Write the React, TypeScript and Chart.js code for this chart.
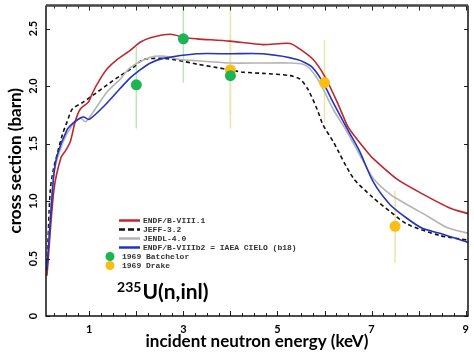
import React, { useEffect, useRef } from 'react';
import { Chart, registerables } from 'chart.js';

Chart.register(...registerables);

// ENDF/B-VIII.1 (red)
const endf81X = [0.1, 0.25, 0.4, 0.5, 0.6, 0.7, 0.81, 0.98, 1.08, 1.23, 1.38, 1.59, 1.87, 2.08, 2.3, 2.72, 3.04, 3.29, 3.99, 4.69, 5.27, 5.48, 5.76, 6.01, 6.27, 6.48, 6.61, 6.9, 7.03, 7.54, 8.09, 8.66, 9.05];
const endf81Y = [0.35, 1.1, 1.38, 1.44, 1.52, 1.69, 1.8, 1.86, 1.95, 2.06, 2.15, 2.23, 2.31, 2.38, 2.42, 2.45, 2.42, 2.41, 2.39, 2.36, 2.37, 2.32, 2.23, 2.08, 1.86, 1.66, 1.58, 1.43, 1.37, 1.19, 1.06, 0.94, 0.89];

// JEFF-3.2 (black dashed)
const jeffX = [0.1, 0.17, 0.24, 0.32, 0.43, 0.53, 0.64, 0.87, 1.08, 1.38, 1.66, 1.93, 2.15, 2.57, 2.93, 3.29, 3.72, 3.99, 4.27, 4.69, 5.27, 5.48, 5.65, 5.84, 5.97, 6.18, 6.61, 7.03, 7.39, 7.75, 8.45, 9.05];
const jeffY = [0.4, 1.09, 1.28, 1.41, 1.58, 1.69, 1.8, 1.86, 1.92, 2.01, 2.09, 2.16, 2.23, 2.24, 2.22, 2.19, 2.16, 2.14, 2.12, 2.11, 2.09, 2.06, 1.97, 1.8, 1.66, 1.52, 1.2, 1.03, 0.91, 0.8, 0.7, 0.66];

// JENDL-4.0 (gray)
const jendlX = [0.1, 0.24, 0.43, 0.64, 0.81, 0.92, 1.06, 1.38, 1.66, 1.87, 2.3, 2.57, 2.93, 3.29, 3.99, 4.69, 5.27, 5.54, 5.69, 5.9, 6.18, 6.48, 6.75, 7.03, 7.39, 7.75, 8.18, 8.6, 9.05];
const jendlY = [0.38, 1.22, 1.5, 1.66, 1.72, 1.69, 1.76, 1.95, 2.06, 2.16, 2.25, 2.26, 2.23, 2.22, 2.2, 2.2, 2.2, 2.19, 2.15, 2.03, 1.8, 1.6, 1.4, 1.2, 1.06, 0.97, 0.87, 0.77, 0.72];

// ENDF/B-VIIIb2 = IAEA CIELO (blue)
const cieloX = [0.1, 0.24, 0.32, 0.53, 0.66, 0.8, 0.88, 1.0, 1.3, 1.66, 1.87, 2.08, 2.3, 2.57, 3.29, 3.99, 4.69, 5.42, 5.72, 5.97, 6.18, 6.48, 6.75, 7.03, 7.39, 7.75, 8.09, 8.45, 9.05];
const cieloY = [0.4, 1.2, 1.4, 1.62, 1.68, 1.72, 1.73, 1.71, 1.82, 1.98, 2.07, 2.14, 2.2, 2.24, 2.28, 2.28, 2.28, 2.23, 2.17, 2.03, 1.86, 1.63, 1.43, 1.17, 0.97, 0.85, 0.76, 0.72, 0.64];

// 1969 Batchelor (green)
const batchelorX = [2, 3, 4];
const batchelorY = [2.01, 2.41, 2.09];
const batchelorLow = [1.63, 2.03, 1.75];
const batchelorHigh = [2.34, 2.75, 2.45];

// 1969 Drake (orange)
const drakeX = [4, 6, 7.5];
const drakeY = [2.14, 2.03, 0.78];
const drakeLow = [1.63, 1.69, 0.46];
const drakeHigh = [2.75, 2.4, 1.09];

const xTickLabels = [1, 3, 5, 7, 9];
const yTickLabels = [0, 0.5, 1, 1.5, 2, 2.5];

const seriesLabels = [
  'ENDF/B-VIII.1',
  'JEFF-3.2',
  'JENDL-4.0',
  'ENDF/B-VIIIb2 = IAEA CIELO (b18)',
  '1969 Batchelor',
  '1969 Drake',
];

const toPts = (xs: number[], ys: number[]) => xs.map((x, i) => ({ x, y: ys[i] }));

const FONT = 'Lato, "Open Sans", sans-serif';

const errorBarPlugin = {
  id: 'errorBars',
  beforeDatasetsDraw(chart: any) {
    const { ctx, chartArea } = chart;
    const xs = chart.scales.x;
    const ys = chart.scales.y;
    ctx.save();
    ctx.beginPath();
    ctx.rect(chartArea.left, chartArea.top, chartArea.right - chartArea.left, chartArea.bottom - chartArea.top);
    ctx.clip();
    chart.data.datasets.forEach((ds: any) => {
      if (!ds.errLow) return;
      ctx.strokeStyle = ds.errColor;
      ctx.lineWidth = 1.5;
      ds.data.forEach((p: any, i: number) => {
        const px = xs.getPixelForValue(p.x);
        ctx.beginPath();
        ctx.moveTo(px, ys.getPixelForValue(ds.errLow[i]));
        ctx.lineTo(px, ys.getPixelForValue(ds.errHigh[i]));
        ctx.stroke();
      });
    });
    ctx.restore();
  },
};

const framePlugin = {
  id: 'frame',
  afterDraw(chart: any) {
    const { ctx, chartArea } = chart;
    const { left, right, top, bottom } = chartArea;
    const xs = chart.scales.x;
    const ys = chart.scales.y;
    ctx.save();
    ctx.strokeStyle = '#222';
    ctx.lineWidth = 1;
    xs.ticks.forEach((t: any) => {
      const px = Math.round(xs.getPixelForValue(t.value)) + 0.5;
      const major = Number.isInteger(t.value);
      const len = major ? 5 : 3;
      ctx.beginPath();
      ctx.moveTo(px, bottom);
      ctx.lineTo(px, bottom - len);
      ctx.moveTo(px, top);
      ctx.lineTo(px, top + len);
      ctx.stroke();
    });
    ys.ticks.forEach((t: any) => {
      const py = Math.round(ys.getPixelForValue(t.value)) + 0.5;
      ctx.beginPath();
      ctx.moveTo(left, py);
      ctx.lineTo(left + 4, py);
      ctx.moveTo(right, py);
      ctx.lineTo(right - 4, py);
      ctx.stroke();
    });
    ctx.strokeStyle = '#111';
    ctx.lineWidth = 1.5;
    ctx.beginPath();
    ctx.moveTo(left, top);
    ctx.lineTo(left, bottom);
    ctx.lineTo(right, bottom);
    ctx.lineTo(right, top);
    ctx.stroke();
    ctx.strokeStyle = '#444';
    ctx.lineWidth = 2.5;
    ctx.beginPath();
    ctx.moveTo(left, top);
    ctx.lineTo(right, top);
    ctx.stroke();
    ctx.restore();
  },
};

const legendPlugin = {
  id: 'innerLegend',
  afterDatasetsDraw(chart: any) {
    const { ctx, chartArea } = chart;
    const x0 = chartArea.left + 73;
    const y0 = chartArea.top + 215;
    const rowH = 9;
    ctx.save();
    ctx.font = 'bold 8px "Liberation Mono", monospace';
    ctx.textBaseline = 'middle';
    ctx.textAlign = 'left';
    chart.data.datasets.forEach((ds: any, i: number) => {
      const y = y0 + i * rowH;
      if (ds.showLine) {
        ctx.strokeStyle = ds.borderColor;
        ctx.lineWidth = 2.5;
        ctx.setLineDash(ds.borderDash && ds.borderDash.length ? [6, 3] : []);
        ctx.beginPath();
        ctx.moveTo(x0, y);
        ctx.lineTo(x0 + 21, y);
        ctx.stroke();
        ctx.setLineDash([]);
        ctx.fillStyle = '#333';
        ctx.fillText(ds.label, x0 + 24, y);
      } else {
        ctx.fillStyle = ds.backgroundColor;
        ctx.beginPath();
        ctx.arc(x0 - 9, y, 4.5, 0, Math.PI * 2);
        ctx.fill();
        ctx.fillStyle = '#333';
        ctx.fillText(ds.label, x0 + 3, y);
      }
    });
    ctx.restore();
  },
};

const annotationPlugin = {
  id: 'reaction',
  afterDraw(chart: any) {
    const { ctx } = chart;
    const px = chart.scales.x.getPixelForValue(1.59);
    const py = chart.scales.y.getPixelForValue(0.147);
    ctx.save();
    ctx.fillStyle = '#000';
    ctx.textBaseline = 'alphabetic';
    ctx.textAlign = 'left';
    ctx.font = `bold 14px ${FONT}`;
    ctx.fillText('235', px, py - 7);
    const w = ctx.measureText('235').width;
    ctx.font = `bold 21px ${FONT}`;
    ctx.fillText('U(n,inl)', px + w + 1, py);
    ctx.restore();
  },
};

export default function App() {
  const ref = useRef<HTMLCanvasElement | null>(null);

  useEffect(() => {
    if (!ref.current) return;
    const lineBase = {
      showLine: true,
      pointRadius: 0,
      pointHoverRadius: 0,
      borderWidth: 1.6,
      tension: 0.25,
      fill: false,
    };
    const chart = new Chart(ref.current, {
      type: 'scatter',
      data: {
        datasets: [
          { ...lineBase, label: seriesLabels[0], data: toPts(endf81X, endf81Y), borderColor: '#c0272d', backgroundColor: '#c0272d', order: 2 },
          { ...lineBase, label: seriesLabels[1], data: toPts(jeffX, jeffY), borderColor: '#111111', backgroundColor: '#111111', borderDash: [4, 3], order: 4 },
          { ...lineBase, label: seriesLabels[2], data: toPts(jendlX, jendlY), borderColor: '#b4b4b4', backgroundColor: '#b4b4b4', order: 3 },
          { ...lineBase, label: seriesLabels[3], data: toPts(cieloX, cieloY), borderColor: '#2433c0', backgroundColor: '#2433c0', order: 1 },
          {
            label: seriesLabels[4], data: toPts(batchelorX, batchelorY), showLine: false,
            pointRadius: 5.5, pointBorderWidth: 0, backgroundColor: '#1db453', borderColor: '#1db453', order: 0,
            errLow: batchelorLow, errHigh: batchelorHigh, errColor: '#bfe3b8',
          } as any,
          {
            label: seriesLabels[5], data: toPts(drakeX, drakeY), showLine: false,
            pointRadius: 5.5, pointBorderWidth: 0, backgroundColor: '#fbbd14', borderColor: '#fbbd14', order: 0,
            errLow: drakeLow, errHigh: drakeHigh, errColor: '#ece5ad',
          } as any,
        ],
      },
      options: {
        responsive: false,
        animation: false,
        layout: { padding: { top: 2, right: 6, left: 0, bottom: 0 } },
        plugins: {
          legend: { display: false },
          tooltip: { enabled: false },
        },
        scales: {
          x: {
            type: 'linear',
            min: 0.08,
            max: 9.05,
            grid: { display: false, drawTicks: false, tickLength: 0 },
            border: { display: false },
            ticks: {
              stepSize: 0.25,
              autoSkip: false,
              includeBounds: false,
              maxRotation: 0,
              minRotation: 0,
              padding: 7,
              color: '#000',
              font: { family: FONT, size: 11, weight: 'bold' },
              callback: (v: any) => (xTickLabels.includes(Number(v)) ? String(v) : ''),
            },
            title: {
              display: true,
              text: 'incident neutron energy (keV)',
              color: '#000',
              font: { family: FONT, size: 17, weight: 'bold' },
              padding: { top: 0, bottom: 10 },
            },
            afterFit: (s: any) => { s.height = 46; s.paddingLeft = 0; s.paddingRight = 0; },
          },
          y: {
            type: 'linear',
            min: 0,
            max: 2.7,
            grid: { display: false, drawTicks: false, tickLength: 0 },
            border: { display: false },
            ticks: {
              stepSize: 0.5,
              includeBounds: false,
              autoSkip: false,
              minRotation: 90,
              maxRotation: 90,
              crossAlign: 'center',
              padding: 5,
              color: '#000',
              font: { family: FONT, size: 11, weight: 'bold' },
              callback: (v: any) => {
                const n = Number(v);
                if (!yTickLabels.includes(n)) return '';
                return n === 0 ? '0' : n.toFixed(1);
              },
            },
            title: {
              display: true,
              text: 'cross section (barn)',
              color: '#000',
              font: { family: FONT, size: 17, weight: 'bold' },
              padding: { top: 5, bottom: 0 },
            },
            afterFit: (s: any) => { s.width = 46; s.paddingTop = 0; s.paddingBottom = 0; },
          },
        },
      } as any,
      plugins: [errorBarPlugin, legendPlugin, annotationPlugin, framePlugin],
    });
    return () => chart.destroy();
  }, []);

  return (
    <div style={{ position: 'fixed', left: 0, top: 0, width: 474, height: 362, background: '#fff' }}>
      <canvas ref={ref} width={474} height={362} style={{ display: 'block', width: 474, height: 362 }} />
    </div>
  );
}
